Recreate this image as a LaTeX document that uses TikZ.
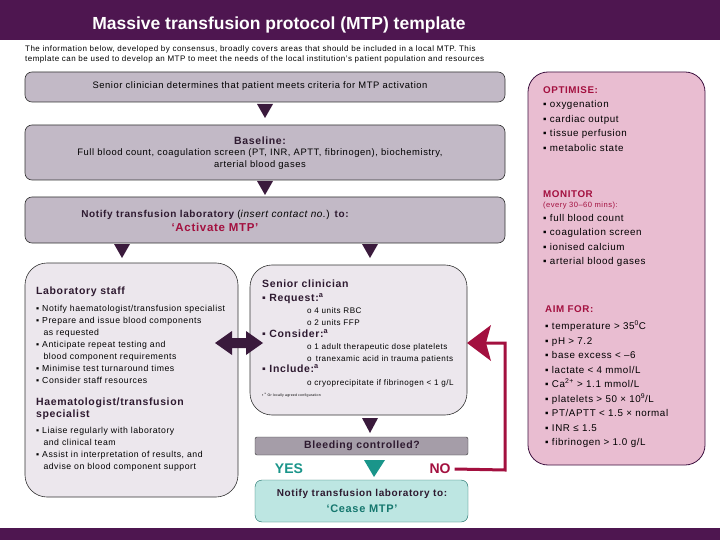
\documentclass[tikz,border=0pt]{standalone}
\usepackage{fontspec}
\setmainfont[LetterSpace=6]{Liberation Sans}
\newfontfamily\titlefont{Liberation Sans}
\usetikzlibrary{arrows.meta}
\definecolor{hdr}{HTML}{4E1650}
\definecolor{gbox}{HTML}{C2B9C6}
\definecolor{lbox}{HTML}{ECE7ED}
\definecolor{tri}{HTML}{3A1A3C}
\definecolor{crim}{HTML}{A3103F}
\definecolor{teal}{HTML}{1A958A}
\definecolor{cease}{HTML}{BDE6E2}
\definecolor{pinkbox}{HTML}{E9BDD1}
\definecolor{dtext}{HTML}{2E1A30}
\begin{document}
\begin{tikzpicture}[x=1pt,y=-1pt,
  gb/.style={draw=black!80,fill=gbox,rounded corners=7pt,line width=0.6pt},
  lb/.style={draw=black!80,fill=lbox,rounded corners=22pt,line width=0.6pt},
  tr/.style={fill=tri},
  t/.style={inner sep=0pt,font=\fontsize{9.4}{11.5}\selectfont},
]
\useasboundingbox (0,0) rectangle (720,540);
\fill[white] (0,0) rectangle (720,540);
\fill[hdr] (0,0) rectangle (720,40);
\fill[hdr] (0,528) rectangle (720,540);
\node[text=white,font=\titlefont\bfseries\fontsize{17.5}{20}\selectfont] (title) at (279,25) {Massive transfusion protocol (MTP) template};
\node[t,anchor=north west,align=left,font=\fontsize{8}{10}\selectfont] (intro) at (25,46) {The information below, developed by consensus, broadly covers areas that should be included in a local MTP. This\\template can be used to develop an MTP to meet the needs of the local institution's patient population and resources};
% boxes
\draw[gb] (25,72) rectangle (505,102);
\node[t] (b1) at (260,86) {Senior clinician determines that patient meets criteria for MTP activation};
\draw[gb] (25,125) rectangle (505,180);
\node[t,align=center] (b2) at (260,153) {\textbf{\color{dtext}\fontsize{10.5}{12}\selectfont Baseline:}\\Full blood count, coagulation screen (PT, INR, APTT, fibrinogen), biochemistry,\\arterial blood gases};
\draw[gb] (25,197) rectangle (505,243);
\node[t,align=center] (b3) at (215,221) {\textbf{\color{dtext}\fontsize{10}{12}\selectfont Notify transfusion laboratory} {\fontsize{10}{12}\selectfont(\textit{insert contact no.})} \textbf{\color{dtext}\fontsize{10}{12}\selectfont to:}\\[3pt]\textbf{\color{crim}\fontsize{11.5}{13}\selectfont `Activate MTP'}};
% triangles
\fill[tr] (257,104) -- (273,104) -- (265,118) -- cycle;
\fill[tr] (257,181) -- (273,181) -- (265,195) -- cycle;
\fill[tr] (114,244) -- (130,244) -- (122,258) -- cycle;
\fill[tr] (362,244) -- (378,244) -- (370,258) -- cycle;
\fill[tr] (362,418) -- (378,418) -- (370,433) -- cycle;
% lab box
\draw[lb] (25,263) rectangle (238,497);
\node[t,anchor=north west,align=left,font=\fontsize{8.7}{12}\selectfont] (lab) at (36,287) {\textbf{\color{dtext}\fontsize{10.5}{12}\selectfont Laboratory staff}\\[5pt]
▪ Notify haematologist/transfusion specialist\\
▪ Prepare and issue blood components\\\ \ \,as requested\\
▪ Anticipate repeat testing and\\\ \ \,blood component requirements\\
▪ Minimise test turnaround times\\
▪ Consider staff resources};
\node[t,anchor=north west,align=left,font=\fontsize{8.7}{12}\selectfont] (haem) at (36,398) {\textbf{\color{dtext}\fontsize{10.5}{13}\selectfont Haematologist/transfusion}\\\textbf{\color{dtext}\fontsize{10.5}{12}\selectfont specialist}\\[4pt]
▪ Liaise regularly with laboratory\\\ \ \,and clinical team\\
▪ Assist in interpretation of results, and\\\ \ \,advise on blood component support};
% senior box
\draw[lb] (250,265) rectangle (467,415);
\node[t,anchor=north west,align=left,font=\fontsize{8.1}{12.3}\selectfont] (sen) at (262,280) {\textbf{\color{dtext}\fontsize{10.5}{12}\selectfont Senior clinician}\\[1pt]
\textbf{\color{dtext}\fontsize{10.5}{12}\selectfont ▪ Request:\textsuperscript{a}}\\[0pt]
\hspace{45pt}o 4 units RBC\\
\hspace{45pt}o 2 units FFP\\[-1pt]
\textbf{\color{dtext}\fontsize{10.5}{12}\selectfont ▪ Consider:\textsuperscript{a}}\\[0pt]
\hspace{45pt}o 1 adult therapeutic dose platelets\\
\hspace{45pt}o \,tranexamic acid in trauma patients\\[-1pt]
\textbf{\color{dtext}\fontsize{10.5}{12}\selectfont ▪ Include:\textsuperscript{a}}\\[0pt]
\hspace{45pt}o cryoprecipitate if fibrinogen < 1 g/L\\[-1pt]
{\fontsize{3.5}{4}\selectfont ▪ \textsuperscript{a} Or locally agreed configuration}};
% double arrow
\fill[tri] (215,343) -- (232,331) -- (232,338) -- (246,338) -- (246,331) -- (263,343) -- (246,355) -- (246,348) -- (232,348) -- (232,355) -- cycle;
% bleeding
\draw[draw=black!80,fill=gbox!85!black,rounded corners=2pt] (255,437) rectangle (468,455);
\node[t,font=\bfseries\fontsize{10.5}{12}\selectfont,text=dtext] (bl) at (362,446) {Bleeding controlled?};
\node[t,font=\titlefont\bfseries\fontsize{14}{16}\selectfont,text=teal] (yes) at (289,469) {YES};
\node[t,font=\titlefont\bfseries\fontsize{14}{16}\selectfont,text=crim] (no) at (440,469) {NO};
\fill[teal] (364,460) -- (385,460) -- (374,477) -- cycle;
\draw[draw=teal!70!black,fill=cease,rounded corners=7pt] (255,480) rectangle (468,522);
\node[t,align=center] (ce) at (362,501) {\textbf{\color{dtext}\fontsize{10}{12}\selectfont Notify transfusion laboratory to:}\\[4pt]\textbf{\color{teal!80!black}\fontsize{11}{12}\selectfont `Cease MTP'}};
% NO loop
\coordinate (c1) at (505,470);
\coordinate (c2) at (505,343);
\draw[crim,line width=3pt] (no.east)++(4,0) -- (c1) -- (c2) -- (485,343);
\fill[crim] (467,343) -- (491,325) -- (486,343) -- (491,361) -- cycle;
% right box
\draw[draw=hdr!80!black,fill=pinkbox,rounded corners=20pt,line width=0.8pt] (528,72) rectangle (705,465);
\node[t,anchor=north west,align=left,font=\fontsize{9.8}{14.5}\selectfont] (opt) at (543,86) {\textbf{\color{crim}OPTIMISE:}\\▪ oxygenation\\▪ cardiac output\\▪ tissue perfusion\\▪ metabolic state};
\node[t,anchor=north west,align=left,font=\fontsize{9.8}{14.5}\selectfont] (mon) at (543,190) {\textbf{\color{crim}MONITOR}\\[-4pt]{\color{crim}\fontsize{7.6}{8}\selectfont(every 30--60 mins):}\\[-1pt]▪ full blood count\\▪ coagulation screen\\▪ ionised calcium\\▪ arterial blood gases};
\node[t,anchor=north west,align=left,font=\fontsize{9.8}{14.5}\selectfont] (aim) at (545,305) {\textbf{\color{crim}AIM FOR:}\\[3pt]▪ temperature > 35\textsuperscript{0}C\\▪ pH > 7.2\\▪ base excess < –6\\▪ lactate < 4 mmol/L\\▪ Ca\textsuperscript{2+} > 1.1 mmol/L\\▪ platelets > 50 × 10\textsuperscript{9}/L\\▪ PT/APTT < 1.5 × normal\\▪ INR ≤ 1.5\\▪ fibrinogen > 1.0 g/L};
\end{tikzpicture}
\end{document}
